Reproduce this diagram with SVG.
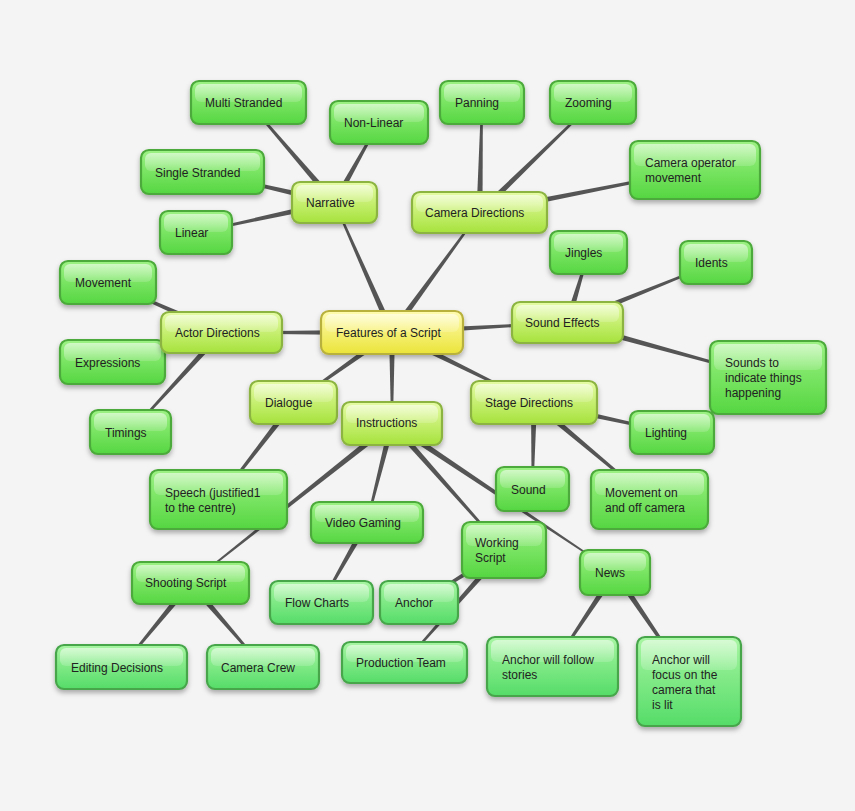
<svg xmlns="http://www.w3.org/2000/svg" width="855" height="811" viewBox="0 0 855 811">
<defs>
<linearGradient id="g0" x1="0" y1="0" x2="0" y2="1"><stop offset="0" stop-color="#fffcb0"/><stop offset="1" stop-color="#ebe43a"/></linearGradient>
<linearGradient id="g1" x1="0" y1="0" x2="0" y2="1"><stop offset="0" stop-color="#e6fca6"/><stop offset="1" stop-color="#a6e23c"/></linearGradient>
<linearGradient id="g2" x1="0" y1="0" x2="0" y2="1"><stop offset="0" stop-color="#9df284"/><stop offset="1" stop-color="#55d641"/></linearGradient>
<linearGradient id="g3" x1="0" y1="0" x2="0" y2="1"><stop offset="0" stop-color="#a8f6a2"/><stop offset="1" stop-color="#55dc68"/></linearGradient>
<linearGradient id="gl" x1="0" y1="0" x2="0" y2="1"><stop offset="0" stop-color="#fff" stop-opacity="0.55"/><stop offset="1" stop-color="#fff" stop-opacity="0.15"/></linearGradient>
<filter id="sh" x="-20%" y="-20%" width="140%" height="160%"><feDropShadow dx="0" dy="3" stdDeviation="2.5" flood-color="#000" flood-opacity="0.3"/></filter>
</defs>
<style>
.body{stroke-width:2.2}
.l0 .body{fill:url(#g0);stroke:#b9b13c}
.l1 .body{fill:url(#g1);stroke:#8bb441}
.l2 .body{fill:url(#g2);stroke:#4caa3a}
.l3 .body{fill:url(#g3);stroke:#46a64a}
.node rect.body{filter:url(#sh)}
.gloss{fill:url(#gl)}
.node text{font-family:"Liberation Sans",Arial,sans-serif;font-size:12px;fill:#222}
#connectors polygon{fill:#555}
</style>
<rect width="855" height="811" fill="#f4f4f4"/>
<g id="connectors">
<polygon points="394.7,331.3 335.3,202.1 333.7,202.9 389.3,333.7"/>
<polygon points="394.4,334.3 480.2,213.0 478.8,212.0 389.6,330.7"/>
<polygon points="392.2,335.5 567.6,323.4 567.5,321.6 391.8,329.5"/>
<polygon points="390.7,335.2 533.6,403.3 534.4,401.7 393.3,329.8"/>
<polygon points="389,332.5 391.1,423.5 392.9,423.5 395,332.5"/>
<polygon points="390.3,330.1 293.0,401.8 294.0,403.2 393.7,335.0"/>
<polygon points="392,329.5 221.5,331.6 221.5,333.4 392,335.5"/>
<polygon points="336.8,200.5 249.2,101.9 247.8,103.1 332.2,204.5"/>
<polygon points="337.1,204.0 379.8,122.9 378.2,122.1 331.9,201.0"/>
<polygon points="335.2,199.6 202.7,171.1 202.3,172.9 333.8,205.4"/>
<polygon points="333.9,199.6 195.8,231.6 196.2,233.4 335.1,205.4"/>
<polygon points="482.5,212.6 482.9,102.5 481.1,102.5 476.5,212.4"/>
<polygon points="481.6,214.7 593.6,103.2 592.4,101.9 477.4,210.4"/>
<polygon points="480.1,215.4 695.2,170.9 694.8,169.1 478.9,209.6"/>
<polygon points="570.4,323.4 589.4,252.8 587.6,252.2 564.6,321.6"/>
<polygon points="568.6,325.3 716.3,263.3 715.7,261.7 566.4,319.7"/>
<polygon points="566.7,325.4 767.8,378.4 768.2,376.6 568.3,319.6"/>
<polygon points="533.4,405.4 671.8,433.4 672.2,431.6 534.6,399.6"/>
<polygon points="531,402.5 531.6,489 533.4,489 537,402.5"/>
<polygon points="532.1,404.8 648.9,500.2 650.1,498.8 535.9,400.2"/>
<polygon points="222.7,329.8 108.4,281.7 107.6,283.3 220.3,335.2"/>
<polygon points="220.7,329.6 112.3,361.1 112.7,362.9 222.3,335.4"/>
<polygon points="219.3,330.5 129.8,431.4 131.2,432.6 223.7,334.5"/>
<polygon points="291.1,400.7 217.8,499.0 219.2,500.1 295.9,404.3"/>
<polygon points="390.1,421.2 190.1,582.5 190.9,583.5 393.9,425.9"/>
<polygon points="389.1,422.8 366.1,522.3 367.9,522.7 394.9,424.2"/>
<polygon points="389.8,425.5 503.3,550.6 504.7,549.4 394.2,421.5"/>
<polygon points="390.3,426.0 614.7,573.0 615.3,572.0 393.7,421.0"/>
<polygon points="364.4,521.0 320.7,602.1 322.3,602.9 369.6,524.0"/>
<polygon points="502.4,547.5 418.5,601.7 419.5,603.3 505.6,552.6"/>
<polygon points="501.8,548.0 403.8,661.9 405.2,663.1 506.2,552.0"/>
<polygon points="612.5,570.8 551.8,666.0 553.2,667.0 617.5,574.2"/>
<polygon points="612.5,574.2 688.3,682.0 689.7,681.0 617.5,570.8"/>
<polygon points="188.2,581.1 120.8,666.4 122.2,667.6 192.8,584.9"/>
<polygon points="188.2,585.0 262.3,667.6 263.7,666.4 192.8,581.0"/>
</g>
<g id="multi-stranded" class="node l2"><rect class="body" x="191" y="81" width="115" height="43" rx="8"/><rect class="gloss" x="195" y="84" width="107" height="18" rx="6"/><text x="205" y="107">Multi Stranded</text></g>
<g id="non-linear" class="node l2"><rect class="body" x="330" y="101" width="98" height="43" rx="8"/><rect class="gloss" x="334" y="104" width="90" height="18" rx="6"/><text x="344" y="127">Non-Linear</text></g>
<g id="single-stranded" class="node l2"><rect class="body" x="141" y="150" width="123" height="44" rx="8"/><rect class="gloss" x="145" y="153" width="115" height="18" rx="6"/><text x="155" y="176.5">Single Stranded</text></g>
<g id="linear" class="node l2"><rect class="body" x="160" y="211" width="72" height="43" rx="8"/><rect class="gloss" x="164" y="214" width="64" height="18" rx="6"/><text x="175" y="237">Linear</text></g>
<g id="narrative" class="node l1"><rect class="body" x="292" y="182" width="85" height="41" rx="8"/><rect class="gloss" x="296" y="185" width="77" height="17" rx="6"/><text x="306" y="207">Narrative</text></g>
<g id="panning" class="node l2"><rect class="body" x="440" y="81" width="84" height="43" rx="8"/><rect class="gloss" x="444" y="84" width="76" height="18" rx="6"/><text x="455" y="107">Panning</text></g>
<g id="zooming" class="node l2"><rect class="body" x="550" y="81" width="86" height="43" rx="8"/><rect class="gloss" x="554" y="84" width="78" height="18" rx="6"/><text x="565" y="107">Zooming</text></g>
<g id="camera-operator" class="node l2"><rect class="body" x="630" y="141" width="130" height="58" rx="8"/><rect class="gloss" x="634" y="144" width="122" height="22" rx="6"/><text x="645" y="167">Camera operator</text><text x="645" y="182">movement</text></g>
<g id="camera-directions" class="node l1"><rect class="body" x="412" y="192" width="135" height="41" rx="8"/><rect class="gloss" x="416" y="195" width="127" height="17" rx="6"/><text x="425" y="217">Camera Directions</text></g>
<g id="jingles" class="node l2"><rect class="body" x="550" y="231" width="77" height="43" rx="8"/><rect class="gloss" x="554" y="234" width="69" height="18" rx="6"/><text x="565" y="257">Jingles</text></g>
<g id="idents" class="node l2"><rect class="body" x="680" y="241" width="72" height="43" rx="8"/><rect class="gloss" x="684" y="244" width="64" height="18" rx="6"/><text x="695" y="267">Idents</text></g>
<g id="sounds-to-indicate" class="node l2"><rect class="body" x="710" y="341" width="116" height="73" rx="8"/><rect class="gloss" x="714" y="344" width="108" height="26" rx="6"/><text x="725" y="367">Sounds to</text><text x="725" y="382">indicate things</text><text x="725" y="397">happening</text></g>
<g id="sound-effects" class="node l1"><rect class="body" x="512" y="302" width="111" height="41" rx="8"/><rect class="gloss" x="516" y="305" width="103" height="17" rx="6"/><text x="525" y="327">Sound Effects</text></g>
<g id="movement" class="node l2"><rect class="body" x="60" y="261" width="96" height="43" rx="8"/><rect class="gloss" x="64" y="264" width="88" height="18" rx="6"/><text x="75" y="287">Movement</text></g>
<g id="expressions" class="node l2"><rect class="body" x="60" y="340" width="105" height="44" rx="8"/><rect class="gloss" x="64" y="343" width="97" height="18" rx="6"/><text x="75" y="366.5">Expressions</text></g>
<g id="timings" class="node l2"><rect class="body" x="90" y="410" width="81" height="44" rx="8"/><rect class="gloss" x="94" y="413" width="73" height="18" rx="6"/><text x="105" y="436.5">Timings</text></g>
<g id="actor-directions" class="node l1"><rect class="body" x="161" y="312" width="121" height="41" rx="8"/><rect class="gloss" x="165" y="315" width="113" height="17" rx="6"/><text x="175" y="337">Actor Directions</text></g>
<g id="features" class="node l0"><rect class="body" x="321" y="311" width="142" height="43" rx="8"/><rect class="gloss" x="325" y="314" width="134" height="18" rx="6"/><text x="336" y="337">Features of a Script</text></g>
<g id="lighting" class="node l2"><rect class="body" x="630" y="411" width="84" height="43" rx="8"/><rect class="gloss" x="634" y="414" width="76" height="18" rx="6"/><text x="645" y="437">Lighting</text></g>
<g id="movement-on-off" class="node l2"><rect class="body" x="591" y="470" width="117" height="59" rx="8"/><rect class="gloss" x="595" y="473" width="109" height="22" rx="6"/><text x="605" y="497">Movement on</text><text x="605" y="512">and off camera</text></g>
<g id="sound" class="node l2"><rect class="body" x="496" y="467" width="73" height="44" rx="8"/><rect class="gloss" x="500" y="470" width="65" height="18" rx="6"/><text x="511" y="493.5">Sound</text></g>
<g id="stage-directions" class="node l1"><rect class="body" x="471" y="381" width="126" height="43" rx="8"/><rect class="gloss" x="475" y="384" width="118" height="18" rx="6"/><text x="485" y="407">Stage Directions</text></g>
<g id="speech" class="node l2"><rect class="body" x="150" y="470" width="137" height="59" rx="8"/><rect class="gloss" x="154" y="473" width="129" height="22" rx="6"/><text x="165" y="497">Speech (justified1</text><text x="165" y="512">to the centre)</text></g>
<g id="dialogue" class="node l1"><rect class="body" x="250" y="381" width="87" height="43" rx="8"/><rect class="gloss" x="254" y="384" width="79" height="18" rx="6"/><text x="265" y="407">Dialogue</text></g>
<g id="video-gaming" class="node l2"><rect class="body" x="311" y="502" width="112" height="41" rx="8"/><rect class="gloss" x="315" y="505" width="104" height="17" rx="6"/><text x="325" y="527">Video Gaming</text></g>
<g id="news" class="node l2"><rect class="body" x="580" y="550" width="70" height="45" rx="8"/><rect class="gloss" x="584" y="553" width="62" height="18" rx="6"/><text x="595" y="577">News</text></g>
<g id="anchor-follow" class="node l3"><rect class="body" x="487" y="637" width="131" height="59" rx="8"/><rect class="gloss" x="491" y="640" width="123" height="22" rx="6"/><text x="502" y="664">Anchor will follow</text><text x="502" y="679">stories</text></g>
<g id="anchor-focus" class="node l3"><rect class="body" x="637" y="637" width="104" height="89" rx="8"/><rect class="gloss" x="641" y="640" width="96" height="30" rx="6"/><text x="652" y="664">Anchor will</text><text x="652" y="679">focus on the</text><text x="652" y="694">camera that</text><text x="652" y="709">is lit</text></g>
<g id="flow-charts" class="node l3"><rect class="body" x="270" y="581" width="103" height="43" rx="8"/><rect class="gloss" x="274" y="584" width="95" height="18" rx="6"/><text x="285" y="607">Flow Charts</text></g>
<g id="production-team" class="node l3"><rect class="body" x="342" y="642" width="125" height="41" rx="8"/><rect class="gloss" x="346" y="645" width="117" height="17" rx="6"/><text x="356" y="667">Production Team</text></g>
<g id="anchor" class="node l3"><rect class="body" x="380" y="581" width="78" height="43" rx="8"/><rect class="gloss" x="384" y="584" width="70" height="18" rx="6"/><text x="395" y="607">Anchor</text></g>
<g id="working-script" class="node l2"><rect class="body" x="462" y="522" width="84" height="56" rx="8"/><rect class="gloss" x="466" y="525" width="76" height="21" rx="6"/><text x="475" y="547">Working</text><text x="475" y="562">Script</text></g>
<g id="instructions" class="node l1"><rect class="body" x="342" y="402" width="100" height="43" rx="8"/><rect class="gloss" x="346" y="405" width="92" height="18" rx="6"/><text x="356" y="427">Instructions</text></g>
<g id="editing-decisions" class="node l3"><rect class="body" x="56" y="645" width="131" height="44" rx="8"/><rect class="gloss" x="60" y="648" width="123" height="18" rx="6"/><text x="71" y="671.5">Editing Decisions</text></g>
<g id="camera-crew" class="node l3"><rect class="body" x="207" y="645" width="112" height="44" rx="8"/><rect class="gloss" x="211" y="648" width="104" height="18" rx="6"/><text x="221" y="671.5">Camera Crew</text></g>
<g id="shooting-script" class="node l2"><rect class="body" x="132" y="562" width="117" height="42" rx="8"/><rect class="gloss" x="136" y="565" width="109" height="17" rx="6"/><text x="145" y="587">Shooting Script</text></g>
</svg>
